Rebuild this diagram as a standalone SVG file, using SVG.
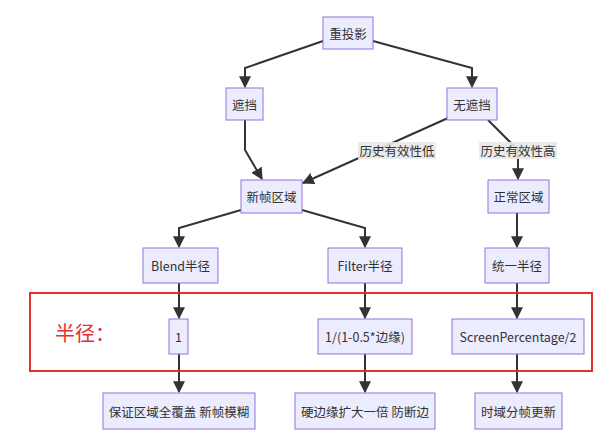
<svg xmlns="http://www.w3.org/2000/svg" width="600" height="441" viewBox="0 0 600 441">
<style>
.n rect{fill:#ECECFF;stroke:#9370DB;stroke-width:1}
text{font-family:"Noto Sans CJK SC","Liberation Sans",sans-serif;font-size:12.5px;fill:#333;text-anchor:middle;dominant-baseline:central}
.e path{fill:none;stroke:#333;stroke-width:2}
.lb{fill:#E8E8E8;opacity:0.9}
</style>
<defs><marker id="a" viewBox="0 0 10 10" refX="9" refY="5" markerWidth="6" markerHeight="6" orient="auto-start-reverse"><path d="M0,0L10,5L0,10z" fill="#333"/></marker></defs>
<rect width="600" height="441" fill="#fff"/>
<g class="e">
<path d="M323,41 L245,68 L245,87" marker-end="url(#a)"/>
<path d="M373,41 L472,68 L472,87" marker-end="url(#a)"/>
<path d="M245,120 L245,150 L262,179" marker-end="url(#a)"/>
<path d="M448,118 L303,183" marker-end="url(#a)"/>
<path d="M488,120 L518,150 L518,179" marker-end="url(#a)"/>
<path d="M241,210 L179,228 L179,247" marker-end="url(#a)"/>
<path d="M302,210 L365,228 L365,247" marker-end="url(#a)"/>
<path d="M517,213 L517,247" marker-end="url(#a)"/>
<path d="M179,283 L179,318" marker-end="url(#a)"/>
<path d="M365,283 L365,318" marker-end="url(#a)"/>
<path d="M517,283 L517,318" marker-end="url(#a)"/>
<path d="M179,354 L179,392" marker-end="url(#a)"/>
<path d="M365,354 L365,392" marker-end="url(#a)"/>
<path d="M517,354 L517,392" marker-end="url(#a)"/>
<rect class="lb" x="358" y="142" width="78" height="17"/><text x="397" y="150">历史有效性低</text>
<rect class="lb" x="479" y="142" width="78" height="17"/><text x="518" y="150">历史有效性高</text>
</g>
<g id="n1" class="n"><rect x="323" y="17" width="50" height="32"/><text x="348" y="33">重投影</text></g>
<g id="n2" class="n"><rect x="226" y="88" width="37" height="32"/><text x="244.5" y="104">遮挡</text></g>
<g id="n3" class="n"><rect x="447" y="88" width="50" height="32"/><text x="472" y="104">无遮挡</text></g>
<g id="n4" class="n"><rect x="241" y="180" width="61" height="33"/><text x="271.5" y="196.5">新帧区域</text></g>
<g id="n5" class="n"><rect x="488" y="180" width="61" height="33"/><text x="518.5" y="196.5">正常区域</text></g>
<g id="n6" class="n"><rect x="143" y="248" width="75" height="35"/><text x="180.5" y="265.5">Blend半径</text></g>
<g id="n7" class="n"><rect x="328" y="248" width="74" height="35"/><text x="365" y="265.5">Filter半径</text></g>
<g id="n8" class="n"><rect x="485" y="248" width="64" height="35"/><text x="517" y="265.5">统一半径</text></g>
<g id="n9" class="n"><rect x="169" y="319" width="19" height="35"/><text x="178.5" y="336.5">1</text></g>
<g id="n10" class="n"><rect x="318" y="319" width="94" height="35"/><text x="365" y="336.5">1/(1-0.5*边缘)</text></g>
<g id="n11" class="n"><rect x="452" y="319" width="132" height="35"/><text x="518" y="336.5">ScreenPercentage/2</text></g>
<g id="n12" class="n"><rect x="103" y="393" width="152" height="36"/><text x="179" y="411">保证区域全覆盖 新帧模糊</text></g>
<g id="n13" class="n"><rect x="295" y="393" width="140" height="36"/><text x="365" y="411">硬边缘扩大一倍 防断边</text></g>
<g id="n14" class="n"><rect x="475" y="393" width="87" height="36"/><text x="518.5" y="411">时域分帧更新</text></g>
<rect x="30" y="293" width="562" height="78" fill="none" stroke="#E03030" stroke-width="2"/>
<text x="85" y="332" style="font-size:20px;fill:#E03030">半径：</text>
</svg>
